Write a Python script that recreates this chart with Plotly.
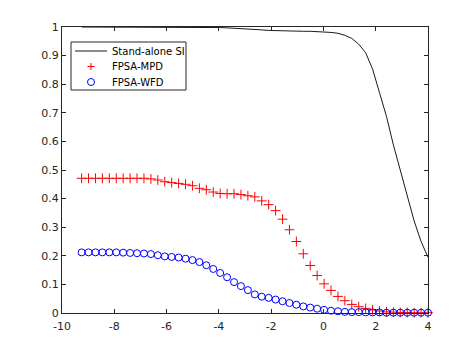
import plotly.graph_objects as go

# ---- data ----
snr = [-9.25, -8.985, -8.72, -8.455, -8.19, -7.925, -7.66, -7.395, -7.13, -6.865,
       -6.6, -6.335, -6.07, -5.805, -5.54, -5.275, -5.01, -4.745, -4.48, -4.215,
       -3.95, -3.685, -3.42, -3.155, -2.89, -2.625, -2.36, -2.095, -1.83, -1.565,
       -1.3, -1.035, -0.77, -0.505, -0.24, 0.025, 0.29, 0.555, 0.82, 1.085,
       1.35, 1.615, 1.88, 2.145, 2.41, 2.675, 2.94, 3.205, 3.47, 3.735, 4.0]

standalone_si = [1.0, 1.0, 1.0, 1.0, 1.0, 1.0, 1.0, 1.0, 1.0, 1.0,
                 1.0, 1.0, 1.0, 1.0, 1.0, 1.0, 0.9995, 0.999, 0.999, 0.998,
                 0.998, 0.997, 0.996, 0.995, 0.994, 0.992, 0.990, 0.988, 0.987, 0.987,
                 0.986, 0.986, 0.985, 0.985, 0.984, 0.983, 0.981, 0.978, 0.971, 0.960,
                 0.940, 0.910, 0.853, 0.770, 0.688, 0.588, 0.497, 0.410, 0.322, 0.250, 0.195]

fpsa_mpd = [0.471, 0.471, 0.471, 0.471, 0.471, 0.471, 0.471, 0.471, 0.471, 0.471,
            0.469, 0.465, 0.459, 0.456, 0.453, 0.450, 0.445, 0.436, 0.431, 0.423,
            0.418, 0.417, 0.417, 0.414, 0.410, 0.406, 0.392, 0.379, 0.358, 0.328,
            0.291, 0.250, 0.207, 0.166, 0.131, 0.102, 0.079, 0.058, 0.043, 0.030,
            0.022, 0.016, 0.011, 0.007, 0.004, 0.003, 0.002, 0.002, 0.001, 0.001, 0.001]

fpsa_wfd = [0.212, 0.212, 0.212, 0.212, 0.212, 0.212, 0.211, 0.210, 0.209, 0.208,
            0.206, 0.202, 0.198, 0.196, 0.194, 0.190, 0.185, 0.178, 0.167, 0.154,
            0.140, 0.125, 0.108, 0.094, 0.080, 0.065, 0.057, 0.053, 0.047, 0.041,
            0.035, 0.029, 0.023, 0.019, 0.015, 0.011, 0.008, 0.006, 0.004, 0.003,
            0.003, 0.002, 0.002, 0.002, 0.001, 0.001, 0.001, 0.001, 0.001, 0.001, 0.001]

series_names = ["Stand-alone SI", "FPSA-MPD", "FPSA-WFD"]

x_tick_vals = [-10, -8, -6, -4, -2, 0, 2, 4]
x_tick_text = ["-10", "-8", "-6", "-4", "-2", "0", "2", "4"]
y_tick_vals = [0, 0.1, 0.2, 0.3, 0.4, 0.5, 0.6, 0.7, 0.8, 0.9, 1]
y_tick_text = ["0", "0.1", "0.2", "0.3", "0.4", "0.5", "0.6", "0.7", "0.8", "0.9", "1"]

AX = "#262626"
FONT = "DejaVu Sans"
LINE_C = "#1a1a1a"
RED = "#ff0000"
BLUE = "#0000ff"

fig = go.Figure()
fig.add_trace(go.Scatter(x=snr, y=standalone_si, mode="lines", name=series_names[0],
                         line=dict(color=LINE_C, width=1), showlegend=False))
fig.add_trace(go.Scatter(x=snr, y=fpsa_mpd, mode="markers", name=series_names[1],
                         marker=dict(symbol="cross-thin-open", size=7, color=RED,
                                     line=dict(color=RED, width=1)),
                         cliponaxis=False, showlegend=False))
fig.add_trace(go.Scatter(x=snr, y=fpsa_wfd, mode="markers", name=series_names[2],
                         marker=dict(symbol="circle-open", size=7, color=BLUE,
                                     line=dict(color=BLUE, width=1)),
                         cliponaxis=False, showlegend=False))

axis_common = dict(showgrid=False, zeroline=False, showline=True, linecolor=AX, linewidth=1,
                   mirror="ticks", ticks="inside", ticklen=4, tickwidth=1, tickcolor=AX,
                   tickfont=dict(family=FONT, size=11, color=AX))

fig.update_xaxes(range=[-10, 4], tickmode="array", tickvals=x_tick_vals, ticktext=x_tick_text,
                 ticklabelstandoff=3, **axis_common)
fig.update_yaxes(range=[0, 1], tickmode="array", tickvals=y_tick_vals, ticktext=y_tick_text,
                 **axis_common)

# ---- legend box drawn in paper coordinates (pixel layout of the reference) ----
L, T, W, H = 62, 27, 366, 286  # plot area in pixels


def px(xp):
    return (xp - L) / W


def py(yp):
    return (T + H - yp) / H


shapes = []
shapes.append(dict(type="rect", xref="paper", yref="paper",
                   x0=px(71), x1=px(186), y0=py(90), y1=py(42),
                   line=dict(color=AX, width=1), fillcolor="white", layer="above"))
rows = [51, 66.5, 82]
# line sample
shapes.append(dict(type="line", xref="paper", yref="paper",
                   x0=px(75), x1=px(107), y0=py(rows[0]), y1=py(rows[0]),
                   line=dict(color=LINE_C, width=1), layer="above"))
# plus sample
mx = 91
hs = 3.5
shapes.append(dict(type="line", xref="paper", yref="paper",
                   x0=px(mx - hs), x1=px(mx + hs), y0=py(rows[1]), y1=py(rows[1]),
                   line=dict(color=RED, width=1), layer="above"))
shapes.append(dict(type="line", xref="paper", yref="paper",
                   x0=px(mx), x1=px(mx), y0=py(rows[1] - hs), y1=py(rows[1] + hs),
                   line=dict(color=RED, width=1), layer="above"))
# circle sample
shapes.append(dict(type="circle", xref="paper", yref="paper",
                   x0=px(mx - hs), x1=px(mx + hs), y0=py(rows[2] + hs), y1=py(rows[2] - hs),
                   line=dict(color=BLUE, width=1), layer="above"))

annotations = []
for name, r in zip(series_names, rows):
    annotations.append(dict(text=name, xref="paper", yref="paper", x=px(110), y=py(r),
                            xanchor="left", yanchor="middle", showarrow=False,
                            font=dict(family=FONT, size=10, color="#000000")))

fig.update_layout(
    width=474, height=353,
    margin=dict(l=62, r=46, t=27, b=40),
    paper_bgcolor="white", plot_bgcolor="white",
    font=dict(family=FONT, size=11, color=AX),
    showlegend=False,
    shapes=shapes,
    annotations=annotations,
)

fig.write_html("out.html")
